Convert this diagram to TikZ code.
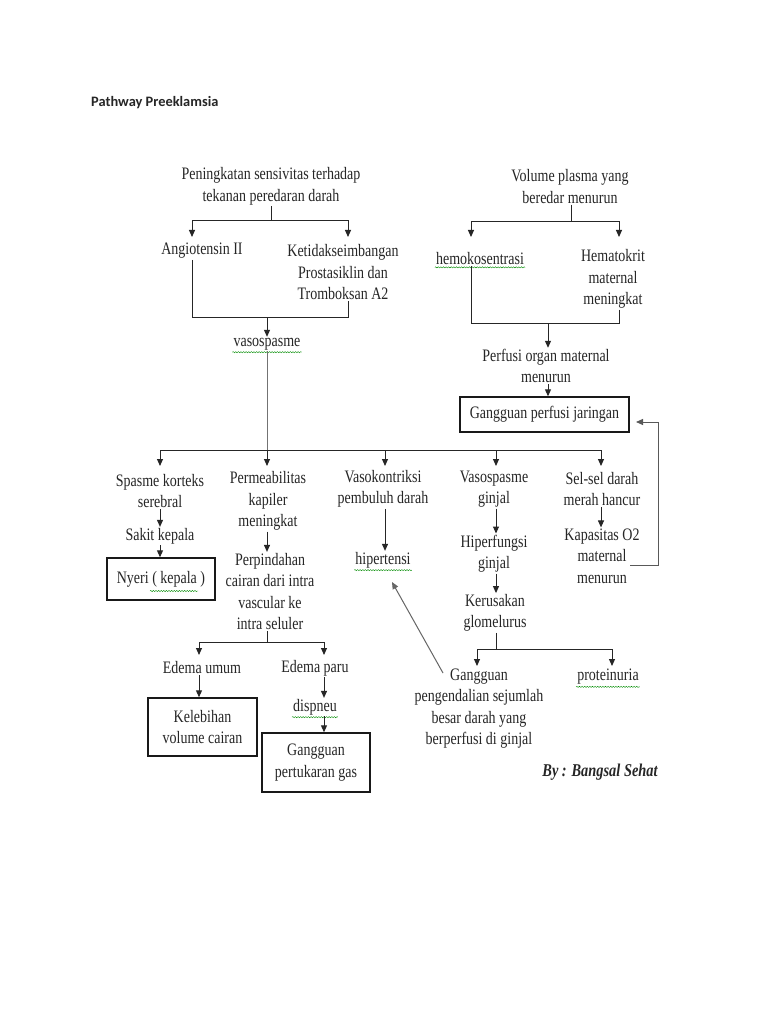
\documentclass[tikz,border=0pt]{standalone}
\usepackage{fontspec}
\setmainfont{Liberation Serif}[FakeStretch=0.80]
\newfontfamily\titlefont{Carlito}
\usetikzlibrary{arrows.meta,decorations.pathmorphing}
\begin{document}
\begin{tikzpicture}[x=1pt,y=-1pt,
  txt/.style={font=\fontsize{17.5}{21.5}\selectfont, align=center, inner sep=1pt, text=black!85},
  boxn/.style={txt, draw=black!90, line width=1.4pt},
  ln/.style={line width=1pt, draw=black!85},
  thin/.style={line width=0.8pt, draw=black!55},
  arr/.style={ln, -{Triangle[length=7pt,width=6pt]}},
  spell/.style={decorate, decoration={snake, amplitude=0.6pt, segment length=2.6pt}, draw=green!55!black, line width=0.4pt}]
\useasboundingbox (0,0) rectangle (768,1024);
\fill[white] (0,0) rectangle (768,1024);

% title
\node[anchor=west, inner sep=0, font=\titlefont\bfseries\fontsize{14.4}{17}\selectfont, text=black!85] (title) at (91,103) {Pathway Preeklamsia};

% top left
\node[txt] (pen) at (271,186.5) {Peningkatan sensivitas terhadap\\tekanan peredaran darah};
\node[txt] (ang) at (202,251) {Angiotensin II};
\node[txt] (ket) at (343,272.5) {Ketidakseimbangan\\Prostasiklin dan\\Tromboksan A2};
\node[txt] (vaso) at (267,344) {vasospasme};

% top right
\node[txt] (vol) at (570,186.5) {Volume plasma yang\\beredar menurun};
\node[txt] (hemo) at (480,259) {hemokosentrasi};
\node[txt] (hema) at (613,279) {Hematokrit\\maternal\\meningkat};
\node[txt] (perf) at (546,366) {Perfusi organ maternal\\menurun};
\node[boxn, minimum width=169pt, minimum height=35pt] (gpj) at (544.5,414.5) {Gangguan perfusi jaringan};

% middle row
\node[txt] (spasme) at (160,491) {Spasme korteks\\serebral};
\node[txt] (sakit) at (160,536) {Sakit kepala};
\node[boxn, minimum width=108pt, minimum height=42pt] (nyeri) at (161,579) {Nyeri ( kepala )};
\node[txt] (perm) at (268,501) {Permeabilitas\\kapiler\\meningkat};
\node[txt] (perp) at (270,591.5) {Perpindahan\\cairan dari intra\\vascular ke\\intra seluler};
\node[txt] (vk) at (383,489) {Vasokontriksi\\pembuluh darah};
\node[txt] (hip) at (383,560) {hipertensi};
\node[txt] (vsg) at (494,489) {Vasospasme\\ginjal};
\node[txt] (hf) at (494,553.5) {Hiperfungsi\\ginjal};
\node[txt] (ker) at (495,613) {Kerusakan\\glomelurus};
\node[txt] (gp) at (479,708.5) {Gangguan\\pengendalian sejumlah\\besar darah yang\\berperfusi di ginjal};
\node[txt] (prot) at (608,677) {proteinuria};
\node[txt] (sel) at (602,489) {Sel-sel darah\\merah hancur};
\node[txt] (kap) at (602,556) {Kapasitas O2\\maternal\\menurun};

% bottom left
\node[txt] (eu) at (202,668) {Edema umum};
\node[txt] (ep) at (315,668) {Edema paru};
\node[boxn, minimum width=109pt, minimum height=58pt] (keb) at (202.5,727) {Kelebihan\\volume cairan};
\node[txt] (disp) at (315,707) {dispneu};
\node[boxn, minimum width=108pt, minimum height=59pt] (gpg) at (316,762.5) {Gangguan\\pertukaran gas};

\node[txt, font=\bfseries\itshape\fontsize{18}{20}\selectfont] (by) at (600,772) {By : Bangsal Sehat};

% spell-check underlines
\draw[spell] ([yshift=-1pt]vaso.south west) -- ([yshift=-1pt]vaso.south east);
\draw[spell] ([yshift=-1pt]hemo.south west) -- ([yshift=-1pt]hemo.south east);
\draw[spell] ([yshift=-1pt]hip.south west) -- ([yshift=-1pt]hip.south east);
\draw[spell] ([yshift=-1pt]disp.south west) -- ([yshift=-1pt]disp.south east);
\draw[spell] ([yshift=-1pt]prot.south west) -- ([yshift=-1pt]prot.south east);
\coordinate (kp1) at (150,591);
\coordinate (kp2) at (198,591);
\draw[spell] (kp1) -- (kp2);

% connectors top left
\coordinate (a0) at (271,221);
\coordinate (aL) at (192,237);
\coordinate (aR) at (348,237);
\draw[ln] (pen.south) -- (a0);
\draw[arr] (a0) -| (aL);
\draw[arr] (a0) -| (aR);
\coordinate (b0) at (267,317);
\draw[ln] (ang.south -| aL) |- (b0);
\draw[ln] (ket.south -| aR) |- (b0);
\draw[arr] (b0) -- (vaso.north);

% connectors top right
\coordinate (h0) at (571,222);
\coordinate (hL) at (471,237);
\coordinate (hR) at (619,237);
\draw[ln] (vol.south -| h0) -- (h0);
\draw[arr] (h0) -| (hL);
\draw[arr] (h0) -| (hR);
\coordinate (i0) at (548,323);
\draw[ln] (hemo.south -| hL) |- (i0);
\draw[ln] (hema.south -| hR) |- (i0);
\draw[arr] (i0) -- (i0 |- perf.north);
\draw[arr] (perf.south -| i0) -- (i0 |- gpj.north);

% main bar
\coordinate (c0) at (267,450);
\coordinate (cA) at (160,466);
\coordinate (cB) at (267,466);
\coordinate (cC) at (385,466);
\coordinate (cD) at (496,466);
\coordinate (cE) at (601,466);
\draw[thin] (vaso.south) -- (c0);
\draw[arr] (c0) -| (cA);
\draw[arr] (c0) -- (cB);
\draw[arr] (c0) -| (cC);
\draw[arr] (c0) -| (cD);
\draw[arr] (c0) -| (cE);

% column 1
\draw[arr] (spasme.south) -- (sakit.north);
\draw[arr] (sakit.south) -- (nyeri.north -| sakit.south);

% column 2
\draw[arr] (perm.south -| cB) -- (cB |- perp.north);
\coordinate (d0) at (267,642);
\coordinate (dL) at (199,655);
\coordinate (dR) at (324,655);
\draw[ln] (perp.south -| d0) -- (d0);
\draw[arr] (d0) -| (dL);
\draw[arr] (d0) -| (dR);
\draw[arr] (eu.south -| dL) -- (dL |- keb.north);
\draw[arr] (ep.south -| dR) -- (dR |- disp.north);
\draw[arr] (disp.south -| dR) -- (dR |- gpg.north);

% column 3
\draw[arr] (vk.south -| cC) -- (cC |- hip.north);

% column 4
\draw[arr] (vsg.south -| cD) -- (cD |- hf.north);
\draw[arr] (hf.south -| cD) -- (cD |- ker.north);
\coordinate (e0) at (496,649);
\coordinate (eL) at (477,666);
\coordinate (eR) at (612,666);
\draw[ln] (ker.south -| e0) -- (e0);
\draw[arr] (e0) -| (eL);
\draw[arr] (e0) -| (eR);
\coordinate (f0) at (443,673);
\coordinate (f1) at (392,582);
\draw[arr, draw=black!60] (f0) -- (f1);

% column 5
\draw[arr] (sel.south -| cE) -- (cE |- kap.north);
\coordinate (g0) at (630,565);
\coordinate (g1) at (658,422);
\coordinate (g2) at (636,422);
\draw[arr, draw=black!65] (g0) -| (g1) -- (g2);
\end{tikzpicture}
\end{document}
